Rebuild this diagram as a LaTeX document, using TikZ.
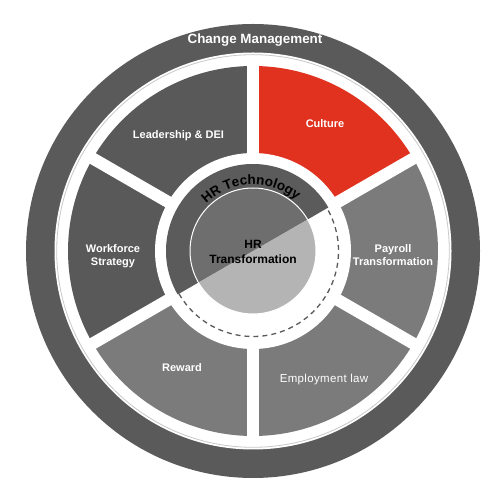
\documentclass[tikz,border=0pt]{standalone}
\usepackage{fontspec}
\setmainfont{Liberation Sans}
\newfontfamily\spacedfont[LetterSpace=3]{Liberation Sans}
\usetikzlibrary{decorations.text}
\definecolor{ringgray}{HTML}{5A5A5A}
\definecolor{darkseg}{HTML}{595959}
\definecolor{midseg}{HTML}{7B7B7B}
\definecolor{culturered}{HTML}{E0321F}
\definecolor{innerdark}{HTML}{6E6E6E}
\definecolor{innerlight}{HTML}{B4B4B4}
\definecolor{techring}{HTML}{5B5B5B}
\definecolor{hairline}{HTML}{C8C8C8}
\newcommand\hrtfont{\fontsize{13.5}{13.5}\selectfont\bfseries}
\tikzset{
  seglabel/.style={text=white, font=\fontsize{11}{13}\selectfont\bfseries, align=center, inner sep=0pt},
  titlelabel/.style={text=white, font=\fontsize{13.4}{15}\selectfont\bfseries, inner sep=0pt},
  centerlabel/.style={text=black, font=\fontsize{12}{15}\selectfont\bfseries, align=center, inner sep=0pt},
  sepline/.style={white, line width=12pt},
  dashring/.style={draw=ringgray, line width=1.3pt, dash pattern=on 5pt off 4pt}
}
\begin{document}
\begin{tikzpicture}[x=1pt,y=1pt]
\useasboundingbox (0,0) rectangle (500,500);
\begin{scope}[shift={(253,249)}]
  % outer ring
  \fill[ringgray] (0,0) circle[radius=227];
  \fill[white] (0,0) circle[radius=198.5];
  \draw[hairline, line width=0.8pt] (0,0) circle[radius=196.3];
  % segments
  \fill[culturered] (0,0) -- (30:185) arc[start angle=30, end angle=90, radius=185] -- cycle;
  \fill[darkseg] (0,0) -- (90:185) arc[start angle=90, end angle=150, radius=185] -- cycle;
  \fill[darkseg] (0,0) -- (150:185) arc[start angle=150, end angle=210, radius=185] -- cycle;
  \fill[midseg] (0,0) -- (210:185) arc[start angle=210, end angle=270, radius=185] -- cycle;
  \fill[midseg] (0,0) -- (270:185) arc[start angle=270, end angle=330, radius=185] -- cycle;
  \fill[midseg] (0,0) -- (330:185) arc[start angle=330, end angle=390, radius=185] -- cycle;
  % separators
  \draw[sepline] (30:192) -- (210:192);
  \draw[sepline] (90:192) -- (270:192);
  \draw[sepline] (150:192) -- (330:192);
  % central white disk
  \fill[white] (0,0) circle[radius=98];
  % HR Technology ring half
  \fill[techring] (0,0) -- (30:87) arc[start angle=30, end angle=210, radius=87] -- cycle;
  \draw[dashring] (210:85.5) arc[start angle=210, end angle=390, radius=85.5];
  % inner disk
  \fill[innerdark] (0,0) -- (30:63) arc[start angle=30, end angle=210, radius=63] -- cycle;
  \fill[innerlight] (0,0) -- (210:63) arc[start angle=210, end angle=390, radius=63] -- cycle;
  \draw[white, line width=1pt] (0,0) circle[radius=63];
  % curved text
  \path[decorate, decoration={text along path, text align=center,
      text={|\hrtfont|HR Technology}}]
      (152:66.5) arc[start angle=152, end angle=32, radius=66.5];
\end{scope}
% labels
\node[titlelabel] (change) at (255,460) {Change Management};
\node[seglabel] (culture) at (325,376) {Culture};
\node[seglabel] (leader) at (178.5,364) {Leadership \& DEI};
\node[seglabel] (workforce) at (113,243.5) {Workforce\\Strategy};
\node[seglabel] (payroll) at (393,244.5) {Payroll\\Transformation};
\node[seglabel] (reward) at (182,132) {Reward};
\node[seglabel, font=\fontsize{11.5}{13}\selectfont\spacedfont] (employ) at (324,120) {Employment law};
\node[centerlabel] (hrt) at (253,248.5) {HR\\Transformation};
\end{tikzpicture}
\end{document}
